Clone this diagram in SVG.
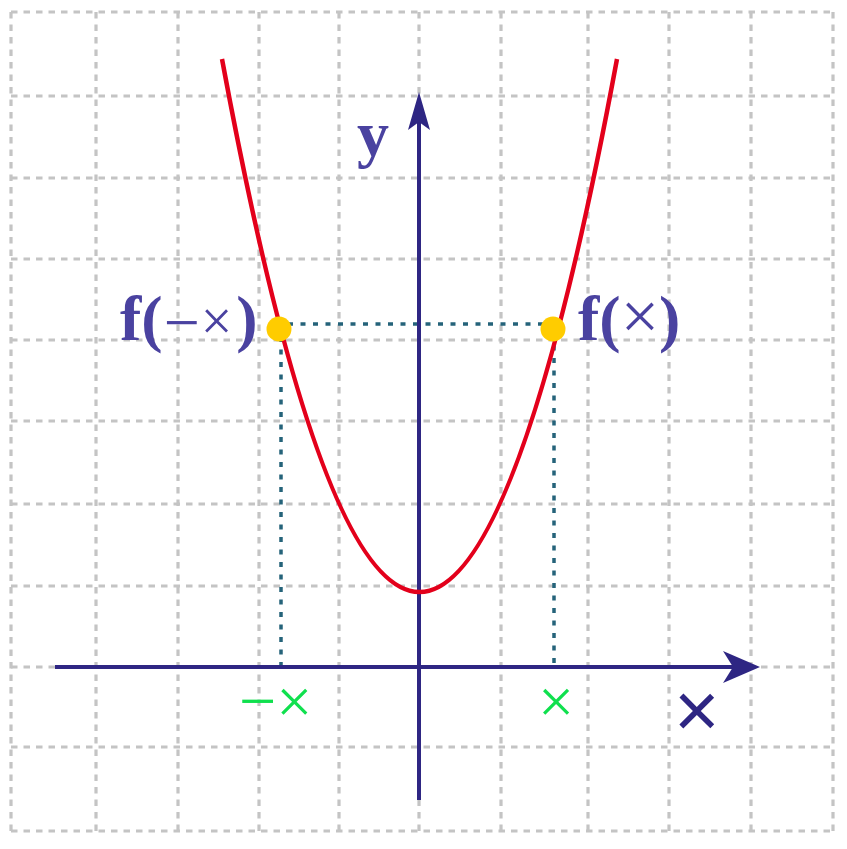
<svg xmlns="http://www.w3.org/2000/svg" width="847" height="849" viewBox="0 0 847 849">
<style>
.grid{stroke:#C4C4C4;stroke-width:3.2;stroke-dasharray:6.5 6;fill:none}
.guide{stroke:#25637A;stroke-width:3.5;stroke-dasharray:5 7.5;fill:none}
.axis{stroke:#2E2683;stroke-width:4;fill:none}
.head{fill:#2E2683}
.curve{stroke:#E3001B;stroke-width:4.5;fill:none}
.pt{fill:#FFCC00}
.lbl{font-family:"Liberation Serif",serif;fill:#4A42A0}
.b{font-weight:bold}
.g{font-family:"Liberation Serif",serif;fill:#10E04E}
.ax{font-family:"Liberation Sans",sans-serif;fill:#2E2683}
</style>
<rect width="847" height="849" fill="#FFFFFF"/>
<g id="grid">
<line class="grid" x1="11" y1="12" x2="11" y2="831"/>
<line class="grid" x1="96" y1="12" x2="96" y2="831"/>
<line class="grid" x1="178" y1="12" x2="178" y2="831"/>
<line class="grid" x1="259" y1="12" x2="259" y2="831"/>
<line class="grid" x1="339" y1="12" x2="339" y2="831"/>
<line class="grid" x1="419" y1="12" x2="419" y2="831"/>
<line class="grid" x1="501" y1="12" x2="501" y2="831"/>
<line class="grid" x1="588" y1="12" x2="588" y2="831"/>
<line class="grid" x1="669" y1="12" x2="669" y2="831"/>
<line class="grid" x1="751" y1="12" x2="751" y2="831"/>
<line class="grid" x1="833" y1="12" x2="833" y2="831"/>
<line class="grid" x1="11" y1="12" x2="833" y2="12"/>
<line class="grid" x1="11" y1="96" x2="833" y2="96"/>
<line class="grid" x1="11" y1="178" x2="833" y2="178"/>
<line class="grid" x1="11" y1="259" x2="833" y2="259"/>
<line class="grid" x1="11" y1="340" x2="833" y2="340"/>
<line class="grid" x1="11" y1="421" x2="833" y2="421"/>
<line class="grid" x1="11" y1="504" x2="833" y2="504"/>
<line class="grid" x1="11" y1="586" x2="833" y2="586"/>
<line class="grid" x1="11" y1="667" x2="833" y2="667"/>
<line class="grid" x1="11" y1="747" x2="833" y2="747"/>
<line class="grid" x1="11" y1="831" x2="833" y2="831"/>
</g>
<g id="connectors">
<path class="guide" d="M281 667 V324 H554 V667"/>
<line class="axis" x1="55" y1="667" x2="735" y2="667"/>
<path class="head" d="M760 667 L723 651 L733 667 L723 683 Z"/>
<line class="axis" x1="419" y1="800" x2="419" y2="120"/>
<path class="head" d="M419 92 L408 130 L419 122 L430 130 Z"/>
</g>
<g id="curve">
<path class="curve" d="M222 59 Q419.5 1125 617 59"/>
</g>
<g id="point-neg">
<circle class="pt" cx="279" cy="329" r="12.5"/>
<text class="lbl" x="120" y="340" font-size="64"><tspan class="b">f(</tspan><tspan font-size="64" dx="1" dy="4">−</tspan><tspan font-size="56" dx="1" dy="-4">×</tspan><tspan class="b" dx="4">)</tspan></text>
</g>
<g id="point-pos">
<circle class="pt" cx="553" cy="329" r="12.5"/>
<text class="lbl" x="578" y="340" font-size="64"><tspan class="b">f(</tspan><tspan font-size="68" dy="-1">×</tspan><tspan class="b" dy="1">)</tspan></text>
</g>
<g id="label-y">
<text class="lbl b" x="357" y="155" font-size="64">y</text>
</g>
<g id="label-negx">
<text class="g" x="239" y="723" font-size="64"><tspan font-size="66">−</tspan><tspan>×</tspan></text>
</g>
<g id="label-posx">
<text class="g" x="538" y="723" font-size="64">×</text>
</g>
<g id="label-xaxis">
<text class="ax" x="674" y="737" font-size="78">×</text>
</g>
</svg>
